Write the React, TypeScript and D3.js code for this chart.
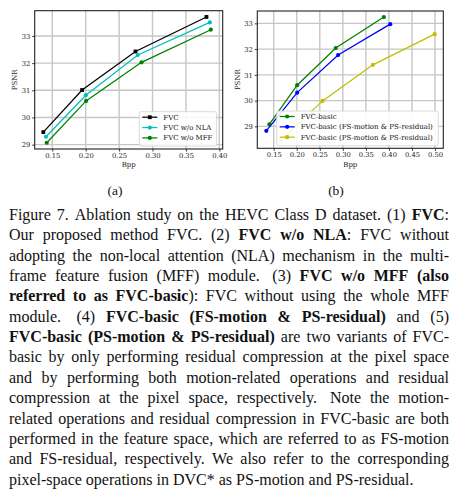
import React, { useRef, useEffect } from 'react';
import * as d3 from 'd3';

// (a) FVC vs. w/o NLA vs. w/o MFF
const bppFVC = [0.1366, 0.1946, 0.2745, 0.3807];
const psnrFVC = [29.46, 31.01, 32.43, 33.7];
const bppNoNLA = [0.1406, 0.2002, 0.278, 0.3857];
const psnrNoNLA = [29.29, 30.82, 32.3, 33.5];
const bppNoMFF = [0.1417, 0.2006, 0.2835, 0.3872];
const psnrNoMFF = [29.07, 30.61, 32.03, 33.23];

// (b) FVC-basic variants
const bppBasic = [0.1405, 0.2009, 0.2846, 0.389];
const psnrBasic = [29.08, 30.6, 32.04, 33.245];
const bppFSPS = [0.134, 0.2009, 0.2898, 0.4028];
const psnrFSPS = [28.83, 30.31, 31.77, 32.97];
const bppPSPS = [0.165, 0.2559, 0.3652, 0.4993];
const psnrPSPS = [28.45, 29.99, 31.39, 32.58];

const xTicksA = [0.15, 0.2, 0.25, 0.3, 0.35, 0.4];
const xTicksB = [0.15, 0.2, 0.25, 0.3, 0.35, 0.4, 0.45, 0.5];
const yTicks = [29, 30, 31, 32, 33];

const namesA = ['FVC', 'FVC w/o NLA', 'FVC w/o MFF'];
const namesB = ['FVC-basic', 'FVC-basic (FS-motion & PS-residual)', 'FVC-basic (PS-motion & PS-residual)'];

// ^ toggles bold
const captionLines = [
    'Figure 7. Ablation study on the HEVC Class D dataset. (1) ^FVC^:',
    'Our proposed method FVC. (2) ^FVC w/o NLA^: FVC without',
    'adopting the non-local attention (NLA) mechanism in the multi-',
    'frame feature fusion (MFF) module.  (3) ^FVC w/o MFF (also^',
    '^referred to as FVC-basic^): FVC without using the whole MFF',
    'module.  (4) ^FVC-basic (FS-motion & PS-residual)^ and (5)',
    '^FVC-basic (PS-motion & PS-residual)^ are two variants of FVC-',
    'basic by only performing residual compression at the pixel space',
    'and by performing both motion-related operations and residual',
    'compression at the pixel space, respectively.  Note the motion-',
    'related operations and residual compression in FVC-basic are both',
    'performed in the feature space, which are referred to as FS-motion',
    'and FS-residual, respectively. We also refer to the corresponding',
    'pixel-space operations in DVC* as PS-motion and PS-residual.',
];

interface Series {
    name: string;
    bpp: number[];
    psnr: number[];
    color: string;
    marker: 'circle' | 'square';
}

interface PanelSpec {
    left: number; right: number; top: number; bottom: number;
    xDomain: [number, number];
    yDomain: [number, number];
    xTicks: number[];
    series: Series[];
    legend: { x: number; y: number; w: number; h: number };
    caption: string;
    captionX: number;
}

const panels: PanelSpec[] = [
    {
        left: 34.7, right: 222.7, top: 10.7, bottom: 149,
        xDomain: [0.1237, 0.405], yDomain: [28.84, 33.93],
        xTicks: xTicksA,
        series: [
            { name: namesA[0], bpp: bppFVC, psnr: psnrFVC, color: '#000000', marker: 'square' },
            { name: namesA[1], bpp: bppNoNLA, psnr: psnrNoNLA, color: '#00bfbf', marker: 'circle' },
            { name: namesA[2], bpp: bppNoMFF, psnr: psnrNoMFF, color: '#008000', marker: 'circle' },
        ],
        legend: { x: 139.3, y: 111.7, w: 77.4, h: 34.3 },
        caption: '(a)', captionX: 115,
    },
    {
        left: 257.3, right: 443.3, top: 11, bottom: 148.3,
        xDomain: [0.1144, 0.518], yDomain: [28.15, 33.48],
        xTicks: xTicksB,
        series: [
            { name: namesB[0], bpp: bppBasic, psnr: psnrBasic, color: '#008000', marker: 'circle' },
            { name: namesB[1], bpp: bppFSPS, psnr: psnrFSPS, color: '#0000ff', marker: 'circle' },
            { name: namesB[2], bpp: bppPSPS, psnr: psnrPSPS, color: '#bfbf00', marker: 'circle' },
        ],
        legend: { x: 276.7, y: 111, w: 161.6, h: 34.7 },
        caption: '(b)', captionX: 336,
    },
];

const plotFont = 'DejaVu Serif';
const textFont = '"Liberation Serif", "Times New Roman", serif';

type G = d3.Selection<SVGGElement, unknown, null, undefined>;

const drawMarker = (g: G, s: Series, cx: number, cy: number) => {
    if (s.marker === 'square') {
        g.append('rect').attr('x', cx - 1.9).attr('y', cy - 1.9).attr('width', 3.8).attr('height', 3.8)
            .attr('fill', s.color);
    } else {
        g.append('circle').attr('cx', cx).attr('cy', cy).attr('r', 2.1).attr('fill', s.color);
    }
};

const drawPanel = (g: G, p: PanelSpec): void => {
    const x = d3.scaleLinear().domain(p.xDomain).range([p.left, p.right]);
    const y = d3.scaleLinear().domain(p.yDomain).range([p.bottom, p.top]);

    // grid
    g.append('g').selectAll('line').data(p.xTicks).enter().append('line')
        .attr('x1', d => x(d)).attr('x2', d => x(d))
        .attr('y1', p.top).attr('y2', p.bottom)
        .attr('stroke', '#c6c6c6').attr('stroke-width', 1.4);
    g.append('g').selectAll('line').data(yTicks).enter().append('line')
        .attr('y1', d => y(d)).attr('y2', d => y(d))
        .attr('x1', p.left).attr('x2', p.right)
        .attr('stroke', '#c6c6c6').attr('stroke-width', 1.4);

    // axes
    const xAxis = g.append('g')
        .attr('transform', `translate(0,${p.bottom})`)
        .call(d3.axisBottom(x).tickValues(p.xTicks).tickFormat(d3.format('.2f')).tickSize(2.5).tickPadding(1.6));
    const yAxis = g.append('g')
        .attr('transform', `translate(${p.left},0)`)
        .call(d3.axisLeft(y).tickValues(yTicks).tickFormat(d3.format('d')).tickSize(2.5).tickPadding(1.9));
    [xAxis, yAxis].forEach(a => {
        a.select('.domain').remove();
        a.selectAll('.tick line').attr('stroke', '#222').attr('stroke-width', 0.9);
        a.selectAll('.tick text').attr('font-family', plotFont).attr('font-size', 6.8).attr('fill', '#222');
    });

    // series
    const line = d3.line<[number, number]>().x(d => x(d[0])).y(d => y(d[1]));
    p.series.forEach(s => {
        const pts: [number, number][] = s.bpp.map((b, i) => [b, s.psnr[i]]);
        g.append('path').attr('d', line(pts)!).attr('fill', 'none')
            .attr('stroke', s.color).attr('stroke-width', 1.25);
        pts.forEach(pt => drawMarker(g, s, x(pt[0]), y(pt[1])));
    });

    // frame
    g.append('rect').attr('x', p.left).attr('y', p.top)
        .attr('width', p.right - p.left).attr('height', p.bottom - p.top)
        .attr('fill', 'none').attr('stroke', '#222').attr('stroke-width', 1.1);

    // legend
    const lg = g.append('g').attr('transform', `translate(${p.legend.x},${p.legend.y})`);
    lg.append('rect').attr('width', p.legend.w).attr('height', p.legend.h)
        .attr('rx', 2).attr('fill', 'white').attr('fill-opacity', 0.88)
        .attr('stroke', '#d0d0d0').attr('stroke-width', 0.8);
    p.series.forEach((s, i) => {
        const ry = 5.5 + i * 10.35;
        lg.append('line').attr('x1', 3).attr('x2', 18).attr('y1', ry).attr('y2', ry)
            .attr('stroke', s.color).attr('stroke-width', 1.25);
        drawMarker(lg, s, 10.5, ry);
        lg.append('text').attr('x', 24).attr('y', ry).attr('dy', '0.35em')
            .attr('font-family', plotFont).attr('font-size', 7).attr('fill', '#111')
            .text(s.name);
    });

    // axis labels
    g.append('text').attr('x', (p.left + p.right) / 2).attr('y', 166.5)
        .attr('text-anchor', 'middle').attr('font-family', plotFont).attr('font-size', 7).attr('fill', '#222')
        .text('Bpp');
    g.append('text').attr('transform', `translate(${p.left - 17.5},${(p.top + p.bottom) / 2}) rotate(-90)`)
        .attr('text-anchor', 'middle').attr('font-family', plotFont).attr('font-size', 7).attr('fill', '#222')
        .text('PSNR');

    // sub caption
    g.append('text').attr('x', p.captionX).attr('y', 194.5).attr('text-anchor', 'middle')
        .attr('font-family', textFont).attr('font-size', 13.5).attr('fill', '#111')
        .text(p.caption);
};

const drawCaption = (g: G): void => {
    const fontSize = 16;
    const x0 = 9;
    const width = 440;
    captionLines.forEach((line, li) => {
        const base = 220 + li * 20.35;
        let bold = false;
        const words: { el: SVGTextElement; w: number; extra: number }[] = [];
        line.split(' ').forEach(tok => {
            if (tok === '') {
                if (words.length) words[words.length - 1].extra += 0.45;
                return;
            }
            const t = g.append('text').attr('y', base)
                .attr('font-family', textFont).attr('font-size', fontSize).attr('fill', '#111');
            tok.split('^').forEach((piece, i) => {
                if (i > 0) bold = !bold;
                if (piece) t.append('tspan').attr('font-weight', bold ? 'bold' : 'normal').text(piece);
            });
            const el = t.node()!;
            words.push({ el, w: el.getComputedTextLength(), extra: 0 });
        });
        const total = d3.sum(words, d => d.w);
        const weights = d3.sum(words.slice(0, -1), d => 1 + d.extra);
        const last = li === captionLines.length - 1;
        const gap = last ? fontSize * 0.25 : (width - total) / weights;
        let cx = x0;
        words.forEach(wd => {
            d3.select(wd.el).attr('x', cx);
            cx += wd.w + gap * (1 + wd.extra);
        });
    });
};

const App: React.FC = () => {
    const ref = useRef<SVGSVGElement>(null);

    useEffect(() => {
        if (!ref.current) return;
        const svg = d3.select(ref.current);
        svg.selectAll('*').remove();
        const root = svg.append('g') as unknown as G;
        panels.forEach(p => drawPanel(root.append('g') as G, p));
        drawCaption(root.append('g') as G);
    }, []);

    return (
        <div style={{ position: 'absolute', left: 0, top: 0 }}>
            <svg ref={ref} width={459} height={496} style={{ display: 'block', background: 'white' }} />
        </div>
    );
};

export default App;
